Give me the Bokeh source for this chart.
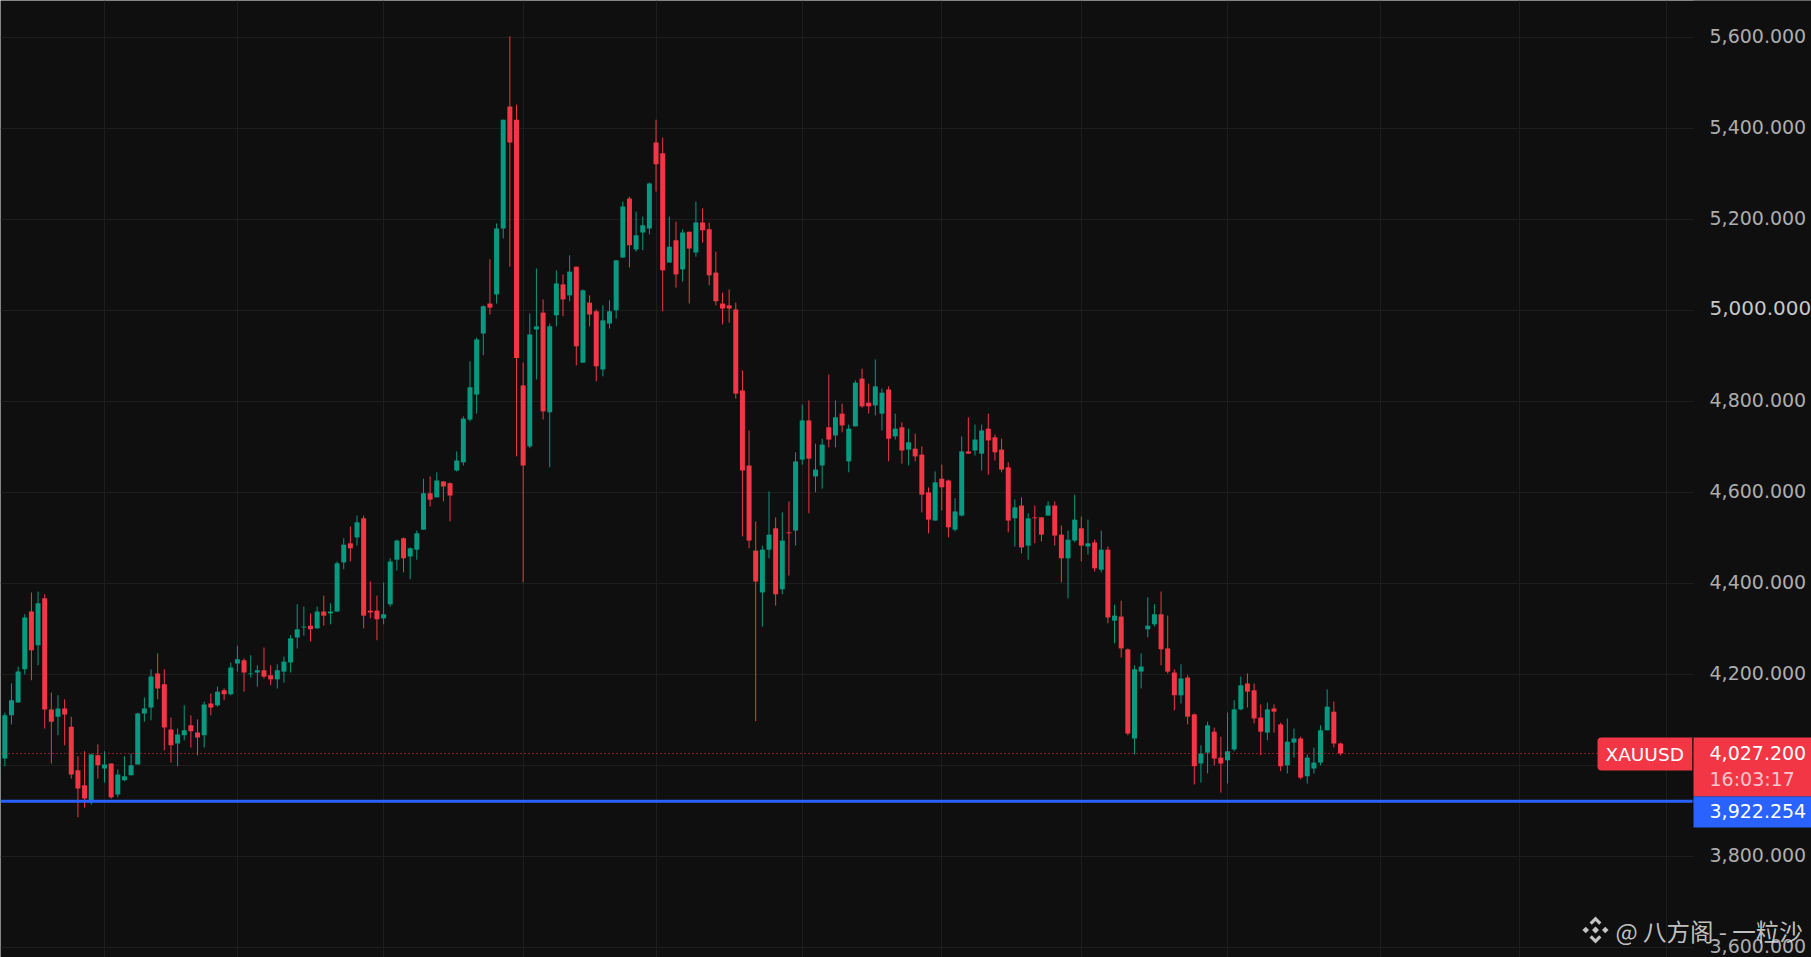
from bokeh.plotting import figure
from bokeh.embed import file_html
from bokeh.resources import INLINE
from bokeh.models import (Range1d, FixedTicker, Grid, Span, Label,
                          BoxAnnotation, ColumnDataSource)

# ---------------- data ----------------
opens = [
    3977, 4016, 4111, 4139, 4212, 4339, 4265, 4368, 4124, 4108,
    4126, 4086, 3990, 3957, 3920, 4023, 3994, 4005, 3937, 3968,
    3979, 4003, 4115, 4128, 4203, 4179, 4080, 4049, 4067, 4089,
    4073, 4067, 4137, 4133, 4166, 4157, 4225, 4232, 4201, 4205,
    4210, 4199, 4190, 4207, 4227, 4282, 4304, 4308, 4302, 4339,
    4335, 4339, 4447, 4489, 4502, 4544, 4341, 4341, 4324, 4355,
    4453, 4500, 4460, 4475,
    4519, 4599, 4590, 4625, 4621, 4649, 4667, 4761, 4816, 4950,
    5016, 5036, 5181, 5449, 5420, 4836, 4702, 4959, 4996, 4777,
    4990, 5058, 5034, 5097, 4886, 5018, 4999, 4871, 4972, 5001,
    5117, 5247, 5135, 5172, 5181, 5370, 5346, 5106, 5155, 5091,
    5174, 5128, 5194, 5179, 5084, 5016, 5012, 5003, 4825, 4660,
    4473, 4381, 4475, 4522, 4388, 4513, 4517, 4673, 4759, 4636,
    4660, 4744, 4726, 4774, 4669, 4746, 4851, 4798, 4792, 4774,
    4827, 4724, 4744, 4695, 4697, 4684, 4601, 4539, 4631, 4627,
    4519, 4550, 4691, 4693, 4686, 4741, 4722, 4695, 4656, 4544,
    4572, 4484, 4546, 4546, 4550, 4572, 4508, 4456, 4495, 4522,
    4482, 4491, 4431, 4475, 4319, 4328, 4256, 4060, 4207, 4300,
    4311, 4333, 4258, 4205, 4155, 4194, 4113, 4005, 4029, 4075,
    4018, 4012, 4036, 4124, 4181, 4166, 4106, 4073, 4126, 4091,
    4001, 4051, 4060, 3977, 3994, 4007, 4078, 4119, 4049,
]
highs = [
    4020, 4117, 4181, 4218, 4333, 4381, 4383, 4377, 4161, 4155,
    4146, 4108, 4021, 4032, 4027, 4047, 4032, 4005, 3992, 4021,
    4027, 4117, 4150, 4212, 4247, 4212, 4106, 4082, 4133, 4111,
    4102, 4141, 4159, 4174, 4170, 4227, 4264, 4236, 4243, 4221,
    4260, 4221, 4223, 4240, 4287, 4355, 4350, 4335, 4350, 4374,
    4357, 4449, 4500, 4526, 4550, 4550, 4405, 4374, 4403, 4456,
    4497, 4502, 4480, 4517,
    4631, 4636, 4645, 4625, 4623, 4691, 4768, 4889, 4941, 5012,
    5113, 5192, 5420, 5603, 5453, 4886, 4994, 5093, 5025, 4972,
    5089, 5080, 5122, 5097, 5047, 5034, 5003, 5012, 5023, 5111,
    5240, 5251, 5218, 5207, 5282, 5420, 5381, 5207, 5196, 5179,
    5174, 5240, 5225, 5194, 5130, 5040, 5047, 5018, 4869, 4737,
    4537, 4484, 4603, 4546, 4557, 4581, 4689, 4794, 4803, 4708,
    4719, 4860, 4803, 4796, 4750, 4847, 4873, 4840, 4893, 4829,
    4834, 4774, 4755, 4741, 4730, 4702, 4612, 4647, 4662, 4629,
    4588, 4724, 4766, 4750, 4750, 4774, 4728, 4719, 4667, 4585,
    4590, 4555, 4572, 4546, 4581, 4581, 4528, 4517, 4596, 4548,
    4541, 4497, 4517, 4482, 4354, 4363, 4258, 4221, 4247, 4370,
    4355, 4383, 4330, 4212, 4223, 4199, 4115, 4045, 4097, 4084,
    4064, 4117, 4144, 4196, 4203, 4181, 4135, 4139, 4135, 4095,
    4104, 4082, 4064, 4025, 4040, 4089, 4168, 4141, 4051,
]
lows = [
    3970, 3999, 4091, 4139, 4201, 4188, 4221, 4082, 4005, 4067,
    4045, 3972, 3887, 3908, 3915, 3972, 3963, 3928, 3931, 3966,
    3979, 4003, 4097, 4100, 4146, 4034, 4007, 3999, 4056, 4040,
    4023, 4040, 4111, 4130, 4144, 4155, 4207, 4163, 4194, 4174,
    4192, 4177, 4170, 4183, 4205, 4258, 4286, 4273, 4302, 4308,
    4311, 4339, 4432, 4449, 4484, 4302, 4324, 4276, 4311, 4350,
    4429, 4425, 4410, 4453,
    4519, 4570, 4590, 4581, 4537, 4647, 4660, 4757, 4774, 4902,
    4992, 5016, 5159, 5097, 4680, 4403, 4698, 4849, 4761, 4656,
    4966, 4988, 5021, 4880, 4886, 4966, 4845, 4856, 4961, 4983,
    5117, 5095, 5130, 5133, 5168, 5262, 4999, 5106, 5051, 5064,
    5016, 5119, 5150, 5056, 5012, 4970, 4974, 4807, 4504, 4478,
    4098, 4306, 4456, 4352, 4377, 4418, 4484, 4662, 4555, 4601,
    4609, 4700, 4700, 4733, 4645, 4746, 4787, 4774, 4770, 4737,
    4669, 4717, 4664, 4660, 4669, 4557, 4511, 4539, 4561, 4502,
    4515, 4548, 4686, 4682, 4649, 4640, 4671, 4645, 4513, 4482,
    4467, 4453, 4489, 4493, 4550, 4484, 4403, 4368, 4491, 4449,
    4464, 4427, 4425, 4313, 4269, 4238, 4067, 4025, 4170, 4282,
    4306, 4221, 4203, 4122, 4137, 4091, 3959, 3963, 3983, 4001,
    3941, 3961, 4032, 4122, 4128, 4093, 4023, 4056, 4073, 3988,
    3983, 4018, 3970, 3961, 3983, 4001, 4078, 4040, 4023,
]
closes = [
    4015, 4111, 4144, 4207, 4326, 4254, 4357, 4124, 4097, 4126,
    4113, 3981, 3950, 3928, 4025, 4001, 4003, 3931, 3981, 3977,
    4001, 4115, 4126, 4196, 4170, 4084, 4045, 4069, 4078, 4076,
    4062, 4135, 4128, 4163, 4157, 4216, 4234, 4205, 4203, 4210,
    4196, 4190, 4210, 4229, 4280, 4300, 4306, 4300, 4339, 4330,
    4339, 4445, 4486, 4478, 4535, 4330, 4337, 4322, 4333, 4449,
    4495, 4456, 4478, 4511,
    4599, 4585, 4627, 4614, 4594, 4671, 4763, 4832, 4937, 5010,
    5007, 5181, 5420, 5370, 4896, 4660, 4948, 4966, 4779, 4966,
    5060, 5025, 5086, 4922, 5045, 4992, 4878, 4979, 4999, 5111,
    5229, 5144, 5166, 5188, 5280, 5322, 5089, 5141, 5080, 5172,
    5137, 5194, 5177, 5078, 5021, 5005, 5005, 4818, 4649, 4495,
    4405, 4475, 4508, 4377, 4495, 4511, 4669, 4759, 4675, 4651,
    4706, 4717, 4766, 4748, 4741, 4842, 4790, 4790, 4834, 4820,
    4719, 4741, 4693, 4711, 4680, 4596, 4541, 4623, 4612, 4524,
    4559, 4691, 4686, 4717, 4737, 4715, 4689, 4651, 4539, 4568,
    4480, 4544, 4544, 4508, 4572, 4506, 4456, 4497, 4541, 4484,
    4489, 4434, 4475, 4326, 4330, 4258, 4071, 4212, 4218, 4308,
    4333, 4256, 4207, 4155, 4192, 4108, 3999, 4027, 4089, 4016,
    4005, 4032, 4124, 4177, 4163, 4104, 4075, 4124, 4119, 3999,
    4053, 4060, 3974, 4018, 4007, 4078, 4130, 4049, 4027.2,
]
price_ticks = [3600, 3800, 4200, 4400, 4600, 4800, 5200, 5400, 5600]
round_tick = 5000
grid_prices = [3600, 3800, 4000, 4200, 4400, 4600, 4800, 5000, 5200, 5400, 5600]
month_starts = [15, 35, 57, 78, 98, 120, 141, 162, 184, 207, 228, 250]
symbol = "XAUUSD"
last_price = 4027.2
countdown = "16:03:17"
level_price = 3922.254
watermark = "@ 八方阁 - 一粒沙"

# ---------------- layout helpers (canvas pixel -> data) ----------------
W, H = 1811, 957
SCALE_X = 1693
STEP = 6.645
PX0 = 4.33
PX_PER_200 = 91.0
PY5600 = 37.3
def X(px):
    return (px - PX0) / STEP
def Y(py):
    return 5600 - (py - PY5600) * 200 / PX_PER_200

BG = "#0f0f0f"
GRID = "#1d1d1d"
UP = "#089981"
DOWN = "#f23645"
BLUE = "#2962ff"
AXIS_TEXT = "#adadad"
FONT = "DejaVu Sans"
LABEL_LIFT = 4  # price units: the scale's labels sit a little above their grid lines

p = figure(width=W, height=H, output_backend="svg", toolbar_location=None, tools="",
           x_range=Range1d(X(0), X(W)), y_range=Range1d(Y(H), Y(0)),
           y_axis_location="right", x_axis_location=None,
           min_border=0,
           background_fill_color=BG, border_fill_color=BG, outline_line_color=None)
p.outline_line_alpha = 0
p.outline_line_width = 0
p.styles = {"position": "absolute", "left": "0px", "top": "0px"}
p.grid.visible = False
p.add_layout(Grid(dimension=1, ticker=FixedTicker(ticks=grid_prices),
                  grid_line_color=GRID, grid_line_width=1, level="underlay"))
p.add_layout(Grid(dimension=0, ticker=FixedTicker(ticks=month_starts),
                  grid_line_color=GRID, grid_line_width=1, level="underlay"))

# price scale background hides the grid lines there
p.add_layout(BoxAnnotation(left=X(SCALE_X), right=X(W), top=Y(0), bottom=Y(H),
                           fill_color=BG, fill_alpha=1, line_color=None, level="glyph"))

ax = p.yaxis[0]
ax.fixed_location = X(SCALE_X)
ax.ticker = FixedTicker(ticks=[v + LABEL_LIFT for v in price_ticks])
ax.major_label_overrides = {v + LABEL_LIFT: f"{v:,.3f}" for v in price_ticks}
ax.axis_line_color = None
ax.major_tick_line_color = None
ax.minor_tick_line_color = None
ax.major_tick_out = 0
ax.major_tick_in = 0
ax.major_label_standoff = 16
ax.major_label_text_color = AXIS_TEXT
ax.major_label_text_font = FONT
ax.major_label_text_font_size = "19px"

# candles
n = len(opens)
assert n == len(highs) == len(lows) == len(closes)
idx = [i - 1 for i in range(n)]
src = ColumnDataSource(dict(
    x=idx, o=opens, h=highs, l=lows, c=closes,
    color=[UP if c >= o else DOWN for o, c in zip(opens, closes)],
    top=[max(o, c) for o, c in zip(opens, closes)],
    bot=[min(o, c) for o, c in zip(opens, closes)],
))
p.segment("x", "h", "x", "l", source=src, line_color="color", line_width=1)
p.vbar("x", width=5 / STEP, top="top", bottom="bot", source=src,
       fill_color="color", line_color=None)

# price lines
p.add_layout(Span(location=last_price, dimension="width", line_color=DOWN,
                  line_width=1, line_dash="1 3"))
p.add_layout(Span(location=level_price, dimension="width", line_color=BLUE, line_width=3))

# tags on the scale
p.add_layout(BoxAnnotation(left=X(1597), right=X(1692), top=Y(737), bottom=Y(770),
                           fill_color=DOWN, fill_alpha=1, line_color=None, border_radius=(4, 0, 0, 4),
                           level="annotation"))
p.add_layout(BoxAnnotation(left=X(1692), right=X(SCALE_X), top=Y(737), bottom=Y(827),
                           fill_color=BG, fill_alpha=1, line_color=None, level="annotation"))
p.add_layout(BoxAnnotation(left=X(SCALE_X), right=X(W), top=Y(737), bottom=Y(796),
                           fill_color=DOWN, fill_alpha=1, line_color=None, level="annotation"))
p.add_layout(BoxAnnotation(left=X(SCALE_X), right=X(W), top=Y(796), bottom=Y(827),
                           fill_color=BLUE, fill_alpha=1, line_color=None, level="annotation"))

def label(text, px, py, color="#ffffff", size="19px", font=FONT, alpha=1.0):
    p.add_layout(Label(x=X(px), y=Y(py), text=text, text_color=color, text_font_size=size,
                       text_font=font, text_align="left", text_alpha=alpha,
                       text_baseline="middle", level="overlay"))

label(f"{round_tick:,.3f}", 1709, 307.5, "#c8c8c8", size="20px")
label(symbol, 1605, 753.5, size="18.5px")
label(f"{last_price:,.3f}", 1709, 752.5)
label(countdown, 1709, 778.5, color="#fbc6cb")
label(f"{level_price:,.3f}", 1709, 810)
label(watermark, 1615, 930, color="#d8d8d8", size="23.5px", font="Noto Sans CJK SC", alpha=0.9)

# watermark logo
cx, cy, R = 1595, 929.5, 13.5
logo = [
    [(0, 1), (.44, .56), (.27, .39), (0, .66), (-.27, .39), (-.44, .56)],
    [(0, -1), (.44, -.56), (.27, -.39), (0, -.66), (-.27, -.39), (-.44, -.56)],
    [(-.97, 0), (-.72, .24), (-.48, 0), (-.72, -.24)],
    [(.97, 0), (.72, .24), (.48, 0), (.72, -.24)],
    [(0, .26), (.26, 0), (0, -.26), (-.26, 0)],
]
p.patches([[X(cx + a * R) for a, b in s] for s in logo],
          [[Y(cy - b * R) for a, b in s] for s in logo],
          fill_color="#d8d8d8", fill_alpha=0.9, line_color=None)

open("out.html", "w").write(file_html(p, INLINE))
